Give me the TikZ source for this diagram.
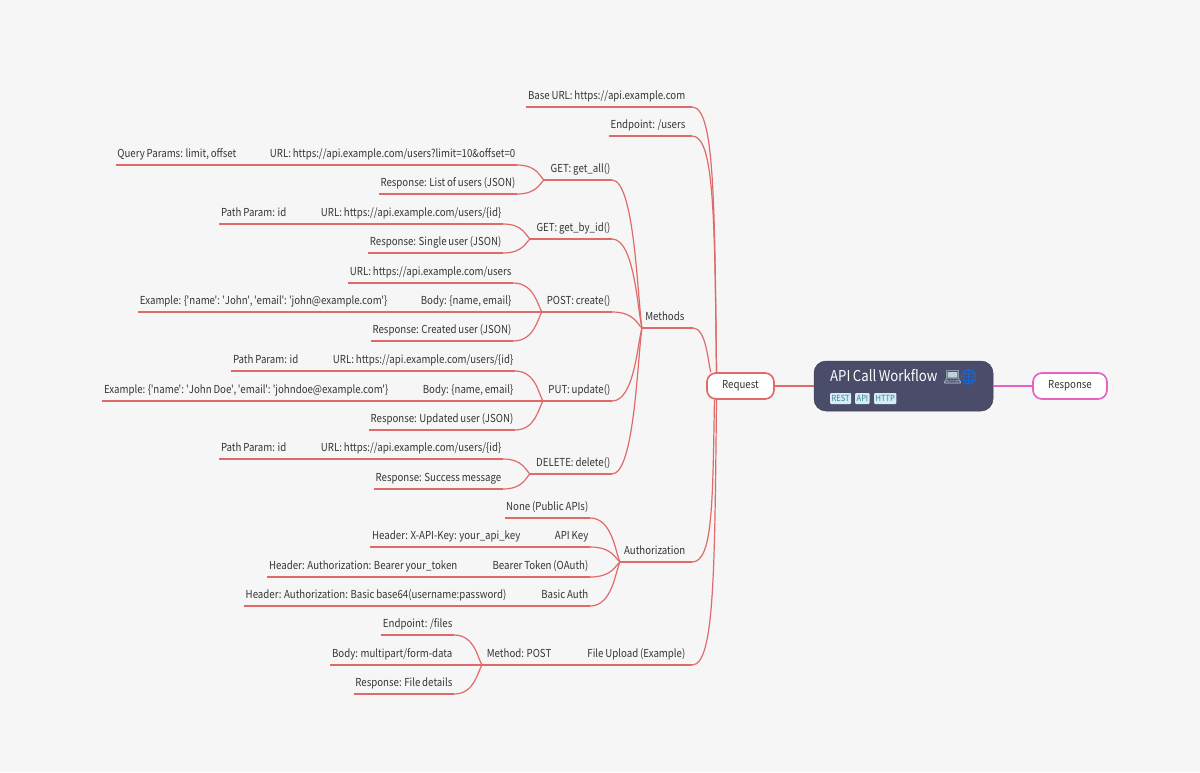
\documentclass[tikz,border=0pt]{standalone}
\usepackage{fontspec}
\setmainfont[FakeStretch=0.88,WordSpace=0.85]{Noto Sans CJK SC}
\newfontfamily\emojifont{Noto Emoji}
\usetikzlibrary{calc}
\definecolor{paper}{HTML}{F6F6F6}
\definecolor{redline}{HTML}{E06A6A}
\definecolor{pinkline}{HTML}{E862C6}
\definecolor{inktext}{HTML}{353535}
\definecolor{rootfill}{HTML}{4A4C6A}
\definecolor{tagfill}{HTML}{D4EDF4}
\definecolor{tagtext}{HTML}{3F7F97}
\tikzset{
  topic/.style={font=\fontsize{11}{12}\selectfont, text=inktext, inner xsep=1.5pt, inner ysep=0pt, text height=9pt, text depth=7pt},
  branch/.style={draw=redline, line width=1.2pt},
  mainbox/.style={draw=#1, line width=1.7pt, fill=white, rounded corners=9pt, minimum height=26pt, font=\fontsize{11}{12}\selectfont, text=inktext},
  tag/.style={fill=tagfill, rounded corners=1pt, inner xsep=1.5pt, inner ysep=0pt, minimum height=11pt, font=\fontsize{8.5}{9}\selectfont, text=tagtext}
}
\newcommand\makequote{\kern-0.4pt\textquotesingle\kern-0.4pt}
\newcommand\maketopic{}
\def\maketopic(#1)(#2)#3{%
  % Synopsis
  % \maketopic(name)(right end of the line){text}
  \node[topic, anchor=south east] (#1) at (#2) {#3};
  \draw[branch] (#1.south west) -- (#1.south east);
}
\newcommand\makelink{}
\def\makelink(#1)(#2){%
  % Synopsis
  % \makelink(start)(end), flat at the start and steep at the end
  \draw[branch] let \p1=(#1), \p2=(#2), \n1={\x2-\x1}, \n2={\y2-\y1} in
    (\p1) .. controls ({\x1+0.75*\n1},\y1) and ({\x2-0.15*\n1},{\y2-0.2*\n2}) .. (\p2);
}
\newcommand\makelong{}
\def\makelong(#1)(#2){%
  % Synopsis
  % \makelong(start)(end), turns early and then runs nearly straight
  \draw[branch] let \p1=(#1), \p2=(#2), \n1={\x2-\x1}, \n2={\y2-\y1} in
    (\p1) .. controls ({\x2-0.08*\n1},\y1) and ({\x2-0.08*\n1},{\y2-0.65*\n2}) .. (\p2);
}
\begin{document}
\begin{tikzpicture}[x=1pt,y=-1pt]
  \fill[paper] (0,0) rectangle (1200,772);
  \useasboundingbox (0,0) rectangle (1200,772);
  \coordinate (Mhub) at (642,328);
  \coordinate (H1) at (544,180);
  \coordinate (H2) at (530,239);
  \coordinate (H3) at (542,312);
  \coordinate (H4) at (543,401);
  \coordinate (H5) at (530,474);
  \coordinate (H6) at (620,562);
  \coordinate (H7) at (482,665);
  \coordinate (B1) at (692,107);
  \coordinate (B2) at (692,136);
  \coordinate (B3) at (693,328);
  \coordinate (B4) at (692,562);
  \coordinate (B5) at (692,665);
  % centre
  \node[draw=rootfill!85!black, line width=0.5pt, fill=rootfill, rounded corners=12pt, minimum width=179pt, minimum height=50pt] (root) at (903.5,386) {};
  \node[anchor=base west, inner sep=0pt, text=white, font=\fontsize{15}{17}\selectfont] (title) at (830,381) {API Call Workflow};
  \node[anchor=base west, inner sep=0pt, text=tagfill!75!gray, font=\emojifont\fontsize{15}{17}\selectfont] (laptop) at (943,382) {💻};
  \node[anchor=base west, inner sep=0pt, text=blue!55!cyan, font=\emojifont\fontsize{15}{17}\selectfont] (globe) at (959,382) {🌐};
  \node[tag, anchor=west] (rest) at (830,398.5) {REST};
  \node[tag, anchor=west] (api) at (855,398.5) {API};
  \node[tag, anchor=west] (http) at (874,398.5) {HTTP};
  \node[mainbox=redline, minimum width=67pt] (request) at (740.5,386) {Request};
  \node[mainbox=pinkline, minimum width=74pt] (response) at (1070,386) {Response};
  \draw[redline, line width=2.6pt] (request) -- (root);
  \draw[pinkline, line width=1.7pt] (root) -- (response);
  % first level
  \maketopic(baseurl)(687,107){Base URL: https://api.example.com}
  \maketopic(endpoint)(687,136){Endpoint: /users}
  \maketopic(methods)(686,328){Methods}
  \maketopic(auth)(687,562){Authorization}
  \maketopic(upload)(687,665){File Upload (Example)}
  \draw[branch] (baseurl.south east) -- (B1);
  \draw[branch] (endpoint.south east) -- (B2);
  \draw[branch] (methods.south east) -- (B3);
  \draw[branch] (auth.south east) -- (B4);
  \draw[branch] (upload.south east) -- (B5);
  \makelong(B1)(request.150)
  \makelong(B2)(request.150)
  \makelink(B3)(request.155)
  \makelong(B4)(request.208)
  \makelong(B5)(request.210)
  \draw[branch] (Mhub) -- (methods.south west);
  \draw[branch] (H6) -- (auth.south west);
  % methods
  \maketopic(getall)(612,180){GET: get\_all()}
  \maketopic(getid)(612,239){GET: get\_by\_id()}
  \maketopic(create)(612,312){POST: create()}
  \maketopic(update)(612,401){PUT: update()}
  \maketopic(delete)(612,474){DELETE: delete()}
  \draw[branch] (H1) -- (getall.south west);
  \draw[branch] (H2) -- (getid.south west);
  \draw[branch] (H3) -- (create.south west);
  \draw[branch] (H4) -- (update.south west);
  \draw[branch] (H5) -- (delete.south west);
  \makelink(getall.south east)(Mhub)
  \makelink(getid.south east)(Mhub)
  \makelink(create.south east)(Mhub)
  \makelink(update.south east)(Mhub)
  \makelink(delete.south east)(Mhub)
  % get_all
  \maketopic(geturl)(517,165){URL: https://api.example.com/users?limit=10\&offset=0}
  \maketopic(getquery)(238,165){Query Params: limit, offset}
  \maketopic(getresp)(517,194){Response: List of users (JSON)}
  \draw[branch] (getquery.south east) -- (geturl.south west);
  \makelink(geturl.south east)(H1)
  \makelink(getresp.south east)(H1)
  % get_by_id
  \maketopic(idurl)(503,224){URL: https://api.example.com/users/\{id\}}
  \maketopic(idpath)(288,224){Path Param: id}
  \maketopic(idresp)(503,253){Response: Single user (JSON)}
  \draw[branch] (idpath.south east) -- (idurl.south west);
  \makelink(idurl.south east)(H2)
  \makelink(idresp.south east)(H2)
  % create
  \maketopic(posturl)(513,283){URL: https://api.example.com/users}
  \maketopic(postbody)(513,312){Body: \{name, email\}}
  \maketopic(postex)(389,312){Example: \{\makequote name\makequote: \makequote John\makequote, \makequote email\makequote: \makequote john@example.com\makequote\}}
  \maketopic(postresp)(513,341){Response: Created user (JSON)}
  \draw[branch] (postex.south east) -- (postbody.south west);
  \makelink(posturl.south east)(H3)
  \draw[branch] (postbody.south east) -- (H3);
  \makelink(postresp.south east)(H3)
  % update
  \maketopic(puturl)(515,371){URL: https://api.example.com/users/\{id\}}
  \maketopic(putpath)(300,371){Path Param: id}
  \maketopic(putbody)(515,401){Body: \{name, email\}}
  \maketopic(putex)(390,401){Example: \{\makequote name\makequote: \makequote John Doe\makequote, \makequote email\makequote: \makequote johndoe@example.com\makequote\}}
  \maketopic(putresp)(515,430){Response: Updated user (JSON)}
  \draw[branch] (putpath.south east) -- (puturl.south west);
  \draw[branch] (putex.south east) -- (putbody.south west);
  \makelink(puturl.south east)(H4)
  \draw[branch] (putbody.south east) -- (H4);
  \makelink(putresp.south east)(H4)
  % delete
  \maketopic(delurl)(503,459){URL: https://api.example.com/users/\{id\}}
  \maketopic(delpath)(288,459){Path Param: id}
  \maketopic(delresp)(503,489){Response: Success message}
  \draw[branch] (delpath.south east) -- (delurl.south west);
  \makelink(delurl.south east)(H5)
  \makelink(delresp.south east)(H5)
  % authorization
  \maketopic(none)(590,518){None (Public APIs)}
  \maketopic(apikey)(590,547){API Key}
  \maketopic(keyhead)(522,547){Header: X-API-Key: your\_api\_key}
  \maketopic(bearer)(590,577){Bearer Token (OAuth)}
  \maketopic(bearhead)(459,577){Header: Authorization: Bearer your\_token}
  \maketopic(basic)(590,606){Basic Auth}
  \maketopic(bashead)(508,606){Header: Authorization: Basic base64(username:password)}
  \draw[branch] (keyhead.south east) -- (apikey.south west);
  \draw[branch] (bearhead.south east) -- (bearer.south west);
  \draw[branch] (bashead.south east) -- (basic.south west);
  \makelink(none.south east)(H6)
  \makelink(apikey.south east)(H6)
  \makelink(bearer.south east)(H6)
  \makelink(basic.south east)(H6)
  % file upload
  \maketopic(method)(553,665){Method: POST}
  \maketopic(fileend)(454,635){Endpoint: /files}
  \maketopic(filebody)(454,665){Body: multipart/form-data}
  \maketopic(fileresp)(454,694){Response: File details}
  \draw[branch] (method.south east) -- (upload.south west);
  \draw[branch] (H7) -- (method.south west);
  \makelink(fileend.south east)(H7)
  \draw[branch] (filebody.south east) -- (H7);
  \makelink(fileresp.south east)(H7)
\end{tikzpicture}
\end{document}
